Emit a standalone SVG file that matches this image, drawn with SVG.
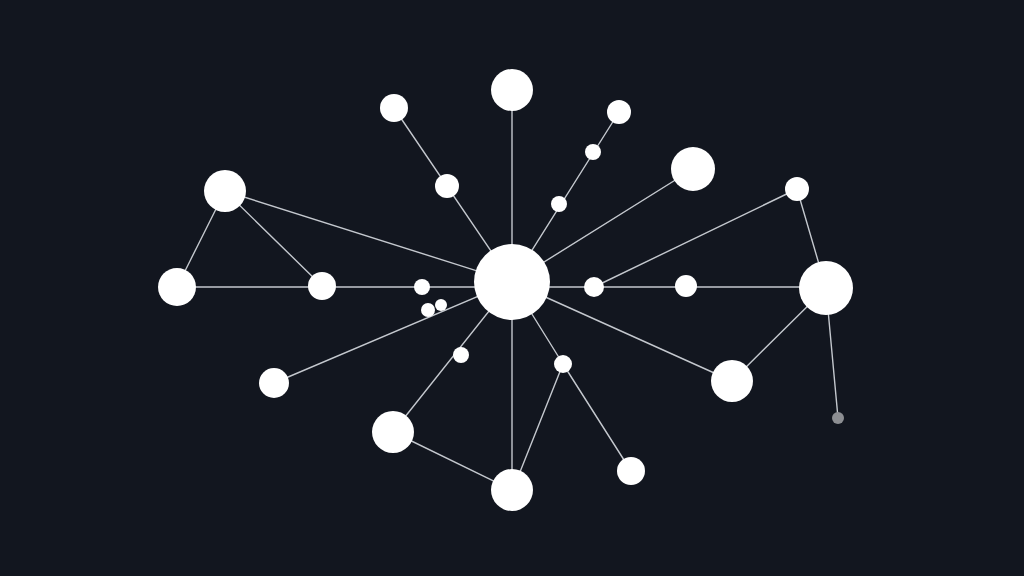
<svg xmlns="http://www.w3.org/2000/svg" width="1024" height="576" viewBox="0 0 1024 576">
<style>
.e{stroke:#c4c8ce;stroke-width:1.4;fill:none;stroke-linecap:round}
.n{fill:#ffffff}
.g{fill:#8c8e92}
</style>
<rect width="1024" height="576" fill="#12161f"/>
<g id="connectors">
<line class="e" x1="512" y1="282" x2="512" y2="90"/>
<line class="e" x1="512" y1="282" x2="394" y2="108"/>
<line class="e" x1="512" y1="282" x2="619" y2="112"/>
<line class="e" x1="512" y1="282" x2="693" y2="169"/>
<line class="e" x1="797" y1="189" x2="594" y2="287"/>
<line class="e" x1="797" y1="189" x2="826" y2="288"/>
<line class="e" x1="540" y1="287" x2="826" y2="287"/>
<line class="e" x1="512" y1="282" x2="732" y2="381"/>
<line class="e" x1="826" y1="288" x2="732" y2="381"/>
<line class="e" x1="826" y1="288" x2="838" y2="418"/>
<line class="e" x1="512" y1="282" x2="512" y2="490"/>
<line class="e" x1="512" y1="282" x2="563" y2="364"/>
<line class="e" x1="563" y1="364" x2="631" y2="471"/>
<line class="e" x1="563" y1="364" x2="516" y2="482"/>
<line class="e" x1="512" y1="282" x2="393" y2="432"/>
<line class="e" x1="393" y1="432" x2="512" y2="490"/>
<line class="e" x1="512" y1="282" x2="274" y2="383"/>
<line class="e" x1="177" y1="287" x2="485" y2="287"/>
<line class="e" x1="512" y1="282" x2="225" y2="191"/>
<line class="e" x1="225" y1="191" x2="322" y2="286"/>
<line class="e" x1="225" y1="191" x2="177" y2="287"/>
</g>
<g id="n-center"><circle class="n" cx="512" cy="282" r="38"/></g>
<g id="n-top"><circle class="n" cx="512" cy="90" r="21"/></g>
<g id="n-tl"><circle class="n" cx="394" cy="108" r="14"/></g>
<g id="n-tl2"><circle class="n" cx="447" cy="186" r="12"/></g>
<g id="n-tr"><circle class="n" cx="619" cy="112" r="12"/></g>
<g id="n-tr2"><circle class="n" cx="593" cy="152" r="8"/></g>
<g id="n-tr3"><circle class="n" cx="559" cy="204" r="8"/></g>
<g id="n-r1"><circle class="n" cx="693" cy="169" r="22"/></g>
<g id="n-r2"><circle class="n" cx="797" cy="189" r="12"/></g>
<g id="n-r3"><circle class="n" cx="826" cy="288" r="27"/></g>
<g id="n-r4"><circle class="n" cx="594" cy="287" r="10"/></g>
<g id="n-r5"><circle class="n" cx="686" cy="286" r="11"/></g>
<g id="n-r6"><circle class="n" cx="732" cy="381" r="21"/></g>
<g id="n-gray"><circle class="g" cx="838" cy="418" r="6"/></g>
<g id="n-b1"><circle class="n" cx="563" cy="364" r="9"/></g>
<g id="n-b2"><circle class="n" cx="631" cy="471" r="14"/></g>
<g id="n-bottom"><circle class="n" cx="512" cy="490" r="21"/></g>
<g id="n-bl1"><circle class="n" cx="461" cy="355" r="8"/></g>
<g id="n-bl2"><circle class="n" cx="393" cy="432" r="21"/></g>
<g id="n-l1"><circle class="n" cx="225" cy="191" r="21"/></g>
<g id="n-l2"><circle class="n" cx="177" cy="287" r="19"/></g>
<g id="n-l3"><circle class="n" cx="322" cy="286" r="14"/></g>
<g id="n-l4"><circle class="n" cx="422" cy="287" r="8"/></g>
<g id="n-l5"><circle class="n" cx="428" cy="310" r="7"/></g>
<g id="n-l6"><circle class="n" cx="441" cy="305" r="6"/></g>
<g id="n-l7"><circle class="n" cx="274" cy="383" r="15"/></g>
</svg>
